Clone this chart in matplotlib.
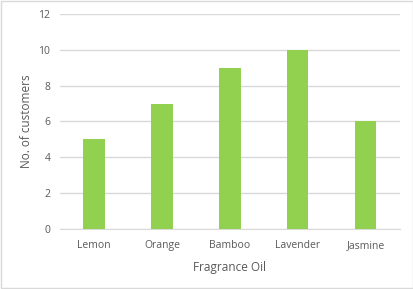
import matplotlib.pyplot as plt
from matplotlib.patches import Rectangle

oils = ['Lemon', 'Orange', 'Bamboo', 'Lavender', 'Jasmine']
customers = [5, 7, 9, 10, 6]
yticks = [0, 2, 4, 6, 8, 10, 12]

txt = '#595959'
plt.rcParams['font.family'] = ['Open Sans', 'DejaVu Sans']

fig = plt.figure(figsize=(4.14, 2.89), dpi=100)
ax = fig.add_axes([0.145, 0.2076, 0.821, 0.744])

ax.bar(range(len(oils)), customers, width=0.31, color='#92D050', zorder=3)
ax.set_xlim(-0.5, len(oils) - 0.5)
ax.set_ylim(0, 12)
ax.set_yticks(yticks)
ax.set_xticks(range(len(oils)))
ax.set_xticklabels(oils)
ax.grid(axis='y', color='#D9D9D9', linewidth=1, zorder=0)
for s in ['top', 'right', 'left']:
    ax.spines[s].set_visible(False)
ax.spines['bottom'].set_color('#D9D9D9')
ax.tick_params(length=0, labelsize=7.5, colors=txt, pad=8)
ax.tick_params(axis='y', pad=7)
ax.set_xlabel('Fragrance Oil', fontsize=8.5, color=txt, labelpad=7)
ax.set_ylabel('No. of customers', fontsize=8.5, color=txt, labelpad=4)

fig.patches.append(Rectangle((0.002, 0.003), 0.995, 0.994, transform=fig.transFigure,
                             fill=False, edgecolor='#D9D9D9', linewidth=1))
fig.savefig('out.png', dpi=100)
